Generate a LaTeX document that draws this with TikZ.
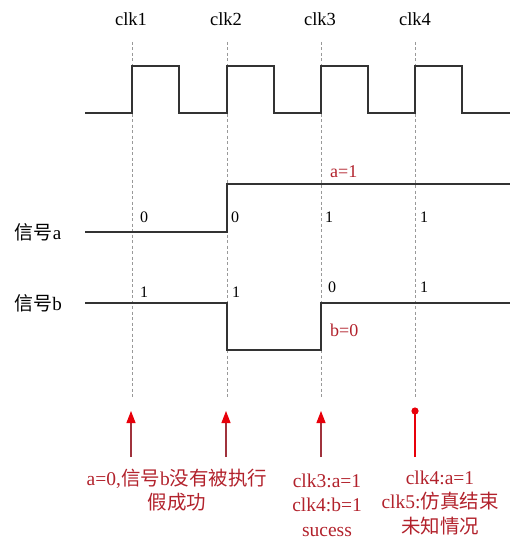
\documentclass[tikz,border=0pt]{standalone}
\usepackage{fontspec}
\setmainfont{Liberation Serif}
\newfontfamily\cjk{Noto Sans CJK SC}
\usetikzlibrary{arrows.meta}
\definecolor{notered}{RGB}{178,34,44}
\definecolor{tipred}{RGB}{232,0,10}
\definecolor{shaftred}{RGB}{160,50,60}

\begin{document}
\begin{tikzpicture}[x=1pt,y=-1pt,line join=miter,
  wave/.style={line width=1.2pt,draw=black!80},
  tick/.style={draw=black!40,line width=0.6pt,dash pattern=on 3pt off 2.5pt},
  clklbl/.style={inner sep=0pt,font=\fontsize{18.5}{20}\selectfont},
  siglbl/.style={inner sep=0pt,font=\fontsize{19}{20}\selectfont},
  bit/.style={inner sep=0pt,font=\fontsize{16}{18}\selectfont},
  hint/.style={inner sep=0pt,anchor=west,text=notered,font=\fontsize{18}{20}\selectfont},
  note/.style={inner sep=0pt,text=notered,align=center,font=\fontsize{19.5}{24.5}\selectfont},
  flag/.style={line width=1.1pt,draw=shaftred,-{Triangle[length=12pt,width=9pt,color=tipred,fill=tipred]}}]
\useasboundingbox (0,0) rectangle (513,551);
% clock edges
\foreach \x in {132,227,321,415}
  \draw[tick] (\x,42) -- (\x,397);
\node[clklbl] (c1) at (131,19) {clk1};
\node[clklbl] (c2) at (226,19) {clk2};
\node[clklbl] (c3) at (320,19) {clk3};
\node[clklbl] (c4) at (415,19) {clk4};
% clock
\draw[wave] (85,113) -- (132,113) -- (132,66) -- (179,66) -- (179,113) -- (227,113) -- (227,66)
  -- (274,66) -- (274,113) -- (321,113) -- (321,66) -- (368,66) -- (368,113) -- (415,113)
  -- (415,66) -- (462,66) -- (462,113) -- (510,113);
% signal a
\node[siglbl] (sa) at (38,232) {{\cjk 信号}a};
\draw[wave] (85,232) -- (227,232) -- (227,184) -- (510,184);
\node[bit] (a1) at (144,217) {0};
\node[bit] (a2) at (235,217) {0};
\node[bit] (a3) at (329,217) {1};
\node[bit] (a4) at (424,217) {1};
\node[hint] (aone) at (330,172) {a=1};
% signal b
\node[siglbl] (sb) at (38,303) {{\cjk 信号}b};
\draw[wave] (85,303) -- (227,303) -- (227,350) -- (321,350) -- (321,303) -- (510,303);
\node[bit] (b1) at (144,292) {1};
\node[bit] (b2) at (236,292) {1};
\node[bit] (b3) at (332,287) {0};
\node[bit] (b4) at (424,287) {1};
\node[hint] (bzero) at (330,330) {b=0};
% markers
\coordinate (m1a) at (131,457); \coordinate (m1b) at (131,411);
\coordinate (m2a) at (226,457); \coordinate (m2b) at (226,411);
\coordinate (m3a) at (321,457); \coordinate (m3b) at (321,411);
\coordinate (m4a) at (415,457); \coordinate (m4b) at (415,411);
\draw[flag] (m1a) -- (m1b);
\draw[flag] (m2a) -- (m2b);
\draw[flag] (m3a) -- (m3b);
\draw[line width=1.1pt,draw=tipred] (m4a) -- (m4b);
\fill[tipred] (m4b) circle (3.6pt);
% notes
\node[note] (n1) at (177,490) {a=0,{\cjk 信号}b{\cjk 没有被执行}\\{\cjk 假成功}};
\node[note] (n2) at (327,505) {clk3:a=1\\clk4:b=1\\sucess};
\node[note] (n3) at (440,503) {clk4:a=1\\clk5:{\cjk 仿真结束}\\{\cjk 未知情况}};
\end{tikzpicture}
\end{document}
